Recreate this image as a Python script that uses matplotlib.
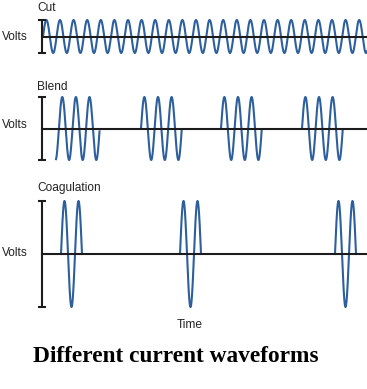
import numpy as np
import matplotlib
matplotlib.use("Agg")
import matplotlib.pyplot as plt

# time axis in arbitrary units (one unit ~ one pixel of the original drawing)
t_end = 325.0
period = 13.6

# cut: continuous sine
cut_start = 1.0

# blend: bursts (start, stop, zero-crossing reference)
blend_starts = [14.0, 99.0, 179.0, 260.0]
blend_stops = [57.5, 139.7, 219.7, 300.7]
blend_refs = [16.9, 99.0, 179.0, 260.0]

# coagulation: short bursts of 1.5 cycles
coag_period = 14.0
coag_starts = [19.0, 138.0, 293.0]
coag_cycles = 1.5

panel_names = ["Cut", "Blend", "Coagulation"]

wave_color = "#2d5f9f"
axis_color = "#1c1c1c"
W, H = 367, 389

plt.rcParams['font.family'] = ['Liberation Sans', 'DejaVu Sans']
fig = plt.figure(figsize=(W / 100, H / 100), dpi=100)


def px_axes(left, top, right, bottom):
    return fig.add_axes([left / W, 1 - bottom / H, (right - left) / W, (bottom - top) / H])


def setup(ax):
    ax.set_xlim(0, t_end)
    ax.set_ylim(-1, 1)
    ax.axis("off")
    ax.plot([0, t_end], [0, 0], color=axis_color, lw=1.5, clip_on=False, zorder=3)
    ax.errorbar([0], [0], yerr=[1], color=axis_color, lw=1.5, capsize=3.2,
                capthick=1.5, clip_on=False, zorder=3)


# cut panel
ax1 = px_axes(42, 20, 367, 53)
setup(ax1)
t = np.linspace(cut_start, t_end, 3000)
ax1.plot(t, np.sin(2 * np.pi * (t - cut_start) / period), color=wave_color,
         lw=1.5, clip_on=False, zorder=2)

# blend panel
ax2 = px_axes(42, 97, 367, 160)
setup(ax2)
for s, e, r in zip(blend_starts, blend_stops, blend_refs):
    t = np.linspace(s, e, 400)
    ax2.plot(t, np.sin(2 * np.pi * (t - r) / period), color=wave_color,
             lw=1.5, clip_on=False, zorder=2)

# coagulation panel
ax3 = px_axes(42, 201, 367, 307)
setup(ax3)
for s in coag_starts:
    t = np.linspace(s, s + coag_cycles * coag_period, 300)
    ax3.plot(t, np.sin(2 * np.pi * (t - s) / coag_period), color=wave_color,
             lw=1.5, clip_on=False, zorder=2)

# labels
fs = 8.6
name_pos = [(37, 11), (37.5, 90), (37.5, 190.5)]
for name, (x, y) in zip(panel_names, name_pos):
    fig.text(x / W, 1 - y / H, name, fontsize=fs, color="#222222",
             ha="left", va="baseline")
for y in [37.5, 125.5, 253.5]:
    fig.text(1.5 / W, 1 - y / H, "Volts", fontsize=fs, color="#222222",
             ha="left", va="center")
fig.text(189.5 / W, 1 - 325 / H, "Time", fontsize=fs, color="#222222",
         ha="center", va="center")
fig.text(175.5 / W, 1 - 361.5 / H, "Different current waveforms",
         family="Liberation Serif", fontweight="bold", fontsize=16.8,
         color="black", ha="center", va="baseline")

fig.savefig("out.png", dpi=100)
